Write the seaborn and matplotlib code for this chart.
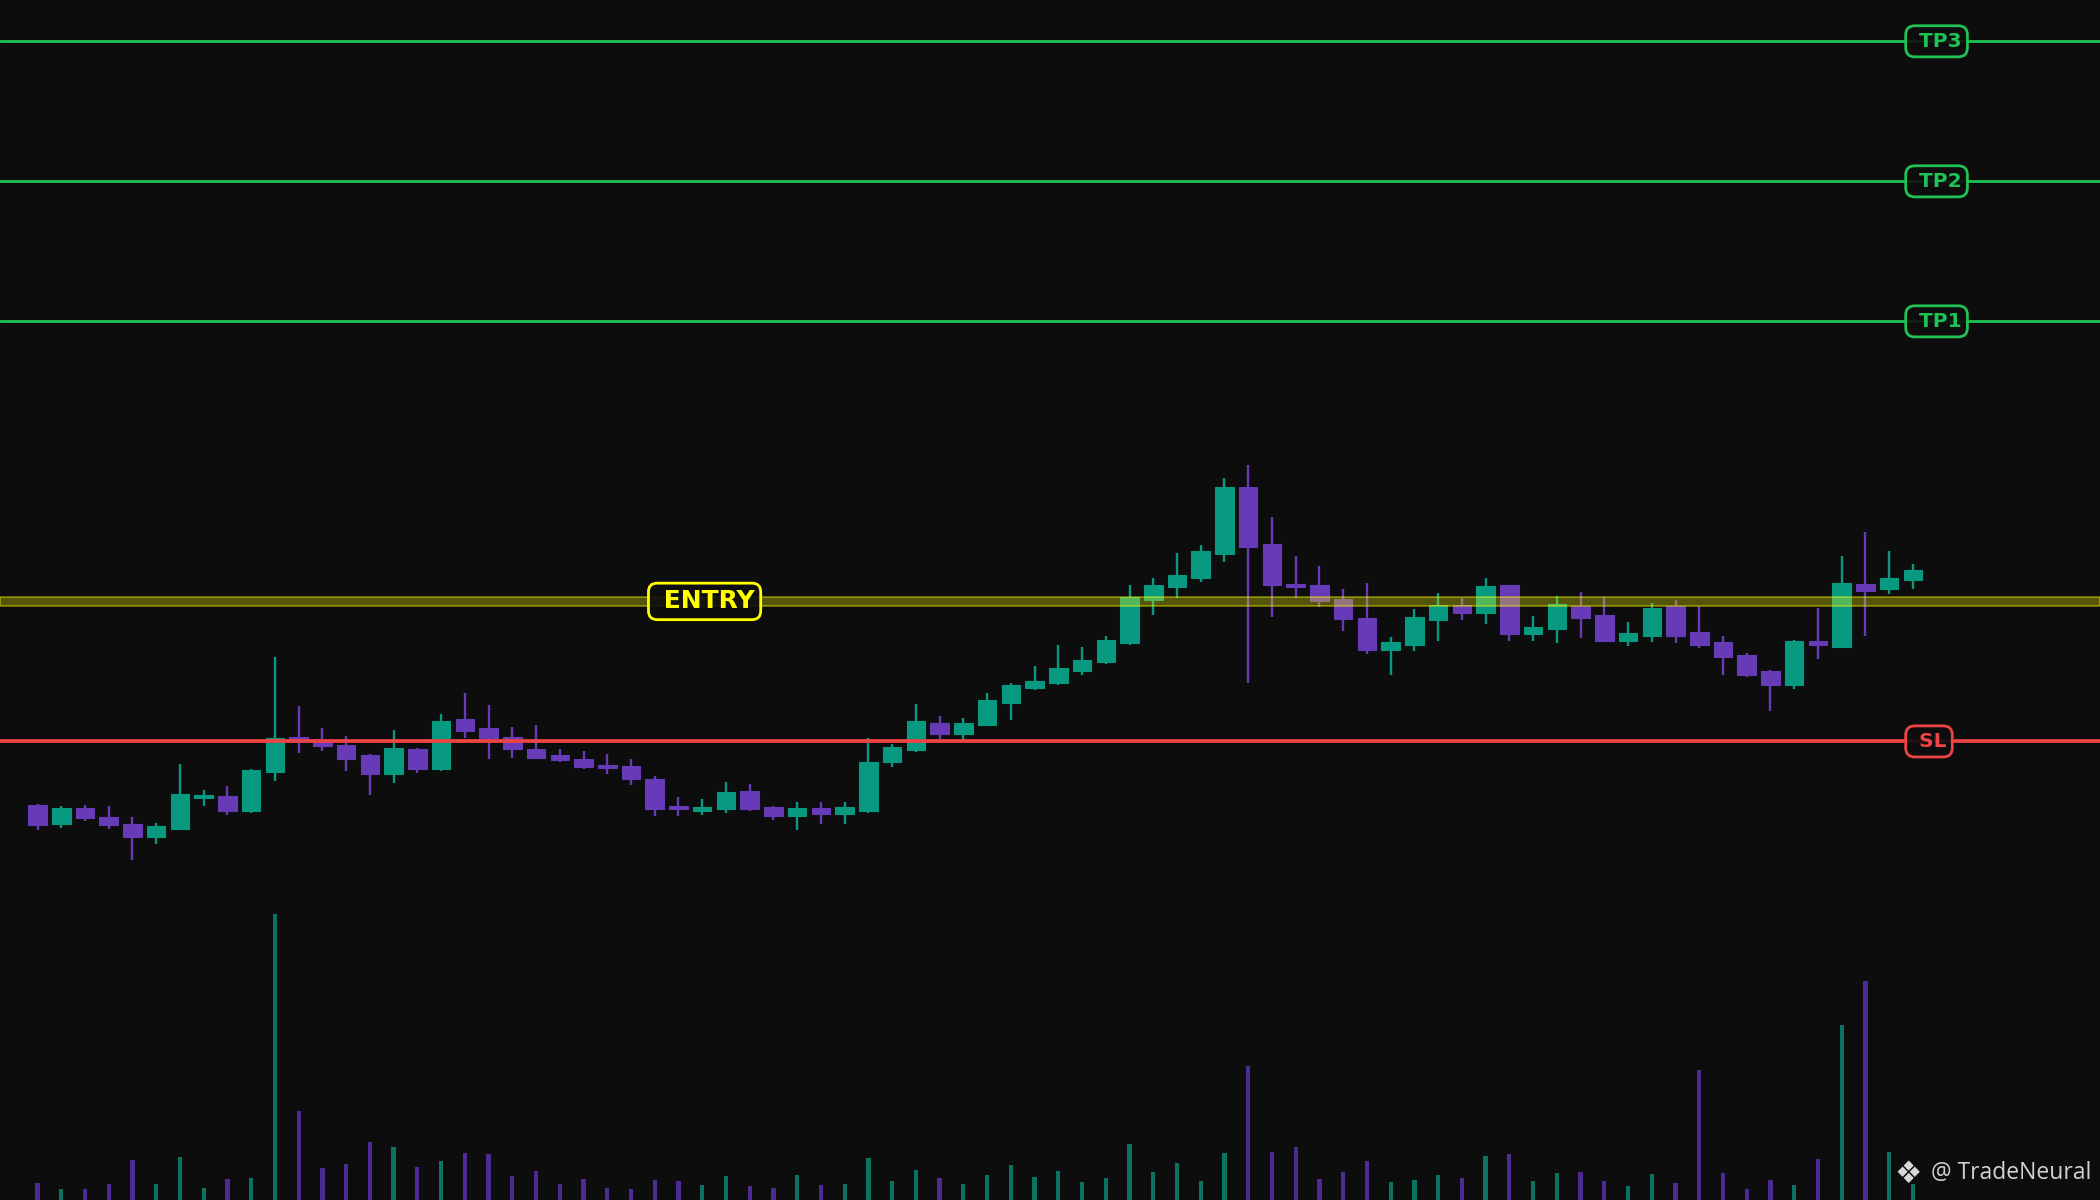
import matplotlib.pyplot as plt
import numpy as np
import pandas as pd
import seaborn as sns

# OHLC candles, one row per bar
opens = [97.09, 96.82, 97.05, 96.92, 96.82, 96.64, 96.75, 97.19, 97.22, 97.01,
         97.57, 98.04, 98.00, 97.95, 97.80, 97.53, 97.89, 97.61, 98.32, 98.19,
         98.07, 97.89, 97.80, 97.75, 97.66, 97.65, 97.47, 97.07, 97.01, 97.04,
         97.29, 97.07, 96.93, 97.05, 96.97, 97.01, 97.70, 97.88, 98.27, 98.10,
         98.24, 98.55, 98.77, 98.84, 99.00, 99.13, 99.41, 100.02, 100.20, 100.33,
         100.68, 101.63, 100.82, 100.25, 100.24, 100.03, 99.77, 99.31, 99.38, 99.74,
         99.95, 99.83, 100.23, 99.53, 99.60, 99.94, 99.80, 99.44, 99.51, 99.93,
         99.56, 99.42, 99.23, 99.00, 98.80, 99.43, 99.35, 100.25, 100.17, 100.30]
closes = [96.80, 97.05, 96.90, 96.80, 96.64, 96.79, 97.25, 97.22, 97.01, 97.59,
          98.05, 98.02, 97.93, 97.75, 97.53, 97.90, 97.61, 98.29, 98.15, 98.05,
          97.89, 97.77, 97.73, 97.63, 97.62, 97.46, 97.04, 97.03, 97.07, 97.28,
          97.03, 96.94, 97.05, 96.97, 97.06, 97.71, 97.92, 98.29, 98.11, 98.27,
          98.59, 98.80, 98.86, 99.05, 99.17, 99.45, 100.06, 100.23, 100.37, 100.72,
          101.63, 100.78, 100.23, 100.20, 100.01, 99.75, 99.31, 99.42, 99.78, 99.95,
          99.84, 100.22, 99.53, 99.63, 99.96, 99.77, 99.44, 99.55, 99.90, 99.51,
          99.38, 99.21, 98.95, 98.81, 99.43, 99.38, 100.26, 100.15, 100.33, 100.45]
highs = [97.11, 97.08, 97.09, 97.08, 96.92, 96.84, 97.68, 97.31, 97.36, 97.61,
         99.21, 98.51, 98.19, 98.08, 97.82, 98.16, 97.90, 98.39, 98.69, 98.52,
         98.21, 98.24, 97.89, 97.86, 97.82, 97.75, 97.51, 97.21, 97.18, 97.42,
         97.39, 97.08, 97.13, 97.14, 97.14, 98.05, 97.96, 98.54, 98.36, 98.34,
         98.69, 98.84, 99.08, 99.38, 99.35, 99.51, 100.24, 100.34, 100.69, 100.81,
         101.76, 101.95, 101.21, 100.65, 100.51, 100.18, 100.26, 99.49, 99.89, 100.12,
         100.05, 100.34, 100.24, 99.79, 100.08, 100.14, 100.06, 99.71, 99.98, 100.02,
         99.94, 99.51, 99.26, 99.02, 99.45, 99.91, 100.65, 100.99, 100.72, 100.54]
lows = [96.73, 96.77, 96.87, 96.75, 96.30, 96.53, 96.73, 97.08, 96.95, 96.98,
        97.43, 97.84, 97.87, 97.58, 97.23, 97.41, 97.55, 97.58, 98.05, 97.75,
        97.77, 97.76, 97.71, 97.60, 97.53, 97.38, 96.93, 96.93, 96.95, 96.98,
        97.01, 96.88, 96.74, 96.82, 96.82, 96.98, 97.63, 97.85, 98.04, 98.02,
        98.23, 98.31, 98.74, 98.80, 98.95, 99.11, 99.38, 99.80, 100.05, 100.27,
        100.56, 98.83, 99.78, 100.05, 99.92, 99.58, 99.25, 98.95, 99.29, 99.44,
        99.74, 99.68, 99.44, 99.44, 99.41, 99.48, 99.42, 99.36, 99.42, 99.41,
        99.34, 98.95, 98.92, 98.43, 98.75, 99.18, 99.34, 99.51, 100.11, 100.18]
volumes = [17, 11, 11, 16, 40, 16, 43, 12, 21, 22,
           286, 89, 32, 36, 58, 53, 33, 39, 47, 46,
           24, 29, 16, 21, 12, 11, 20, 19, 15, 24,
           14, 12, 25, 15, 16, 42, 19, 30, 22, 16,
           25, 35, 23, 29, 18, 22, 56, 28, 37, 19,
           47, 134, 48, 53, 21, 28, 39, 18, 20, 25,
           22, 44, 46, 19, 27, 28, 19, 14, 26, 17,
           130, 27, 11, 20, 15, 41, 175, 219, 48, 16]

# trade levels
level_names = ['TP3', 'TP2', 'TP1', 'SL']
level_prices = [108.0, 106.0, 104.0, 98.0]
entry_price = 100.0

BG = '#0d0d0d'
UP = '#089981'
DOWN = '#673ab7'
UP_VOL = '#0a7362'
DOWN_VOL = '#4d2b92'
GREEN = '#1fc254'
RED = '#ef4444'
YELLOW = '#ffff00'

df = pd.DataFrame({'open': opens, 'close': closes, 'high': highs,
                   'low': lows, 'volume': volumes})
df['bar'] = np.arange(len(df))
df['dir'] = np.where(df['close'] >= df['open'], 'up', 'down')

sns.set_theme(style='dark', rc={'axes.facecolor': BG, 'figure.facecolor': BG})

fig = plt.figure(figsize=(21, 12), dpi=100)
ax = fig.add_axes([0, 0, 1, 1])

# volume on a twin axis, bars coloured by candle direction
vax = ax.twinx()
sns.barplot(data=df, x='bar', y='volume', hue='dir',
            palette={'up': UP_VOL, 'down': DOWN_VOL}, dodge=False,
            width=0.18, errorbar=None, legend=False, saturation=1,
            linewidth=0, ax=vax)
vax.set_ylim(0, df['volume'].max() * 1200 / 286)

# candles: wicks then bodies
colors = np.where(df['dir'] == 'up', UP, DOWN)
ax.vlines(df['bar'], df['low'], df['high'], colors=colors, linewidth=1.7, zorder=2)
body_lo = np.minimum(df['open'], df['close'])
body_h = np.maximum((df['open'] - df['close']).abs(), 0.05)
ax.bar(df['bar'], body_h, bottom=body_lo, width=0.78, color=colors,
       edgecolor=colors, linewidth=0.8, zorder=3)

# take-profit / stop-loss lines with tags (tags share a left edge)
for name, price in zip(level_names, level_prices):
    c = RED if name == 'SL' else GREEN
    lw = 2.7 if name == 'SL' else 2.0
    ax.axhline(price, color=c, linewidth=lw, zorder=4)
    ax.text(78.95, price, ' ' + name, color=c, fontsize=14.5, fontweight='bold',
            ha='left', va='center', zorder=6,
            bbox=dict(boxstyle='round,pad=0.3,rounding_size=0.45',
                      facecolor=(0.05, 0.05, 0.05, 0.9), edgecolor=c, linewidth=2))

# entry band
ax.axhspan(entry_price - 0.065, entry_price + 0.065, facecolor=(1, 1, 0, 0.3),
           edgecolor=(1, 1, 0, 0.45), linewidth=1.2, zorder=5)
ax.text(28.1, entry_price, ' ENTRY', color=YELLOW, fontsize=18, fontweight='bold',
        ha='center', va='center', zorder=6,
        bbox=dict(boxstyle='round,pad=0.25,rounding_size=0.35',
                  facecolor=(0.05, 0.05, 0.05, 0.9), edgecolor=YELLOW, linewidth=2))

ax.set_xlim(-1.58, 86.88)
ax.set_ylim(91.45, 108.59)
for a in (ax, vax):
    a.set_axis_off()

# watermark
fig.text(0.9086, 0.0215, '\u2756', color='#d8d8d8', fontsize=22,
         ha='center', va='center', family='DejaVu Sans')
fig.text(0.9957, 0.0225, '@ TradeNeural', color='#d2d2d2', fontsize=16.5,
         ha='right', va='center', family=['Open Sans', 'DejaVu Sans'])

fig.savefig('out.png', dpi=100, facecolor=BG)
